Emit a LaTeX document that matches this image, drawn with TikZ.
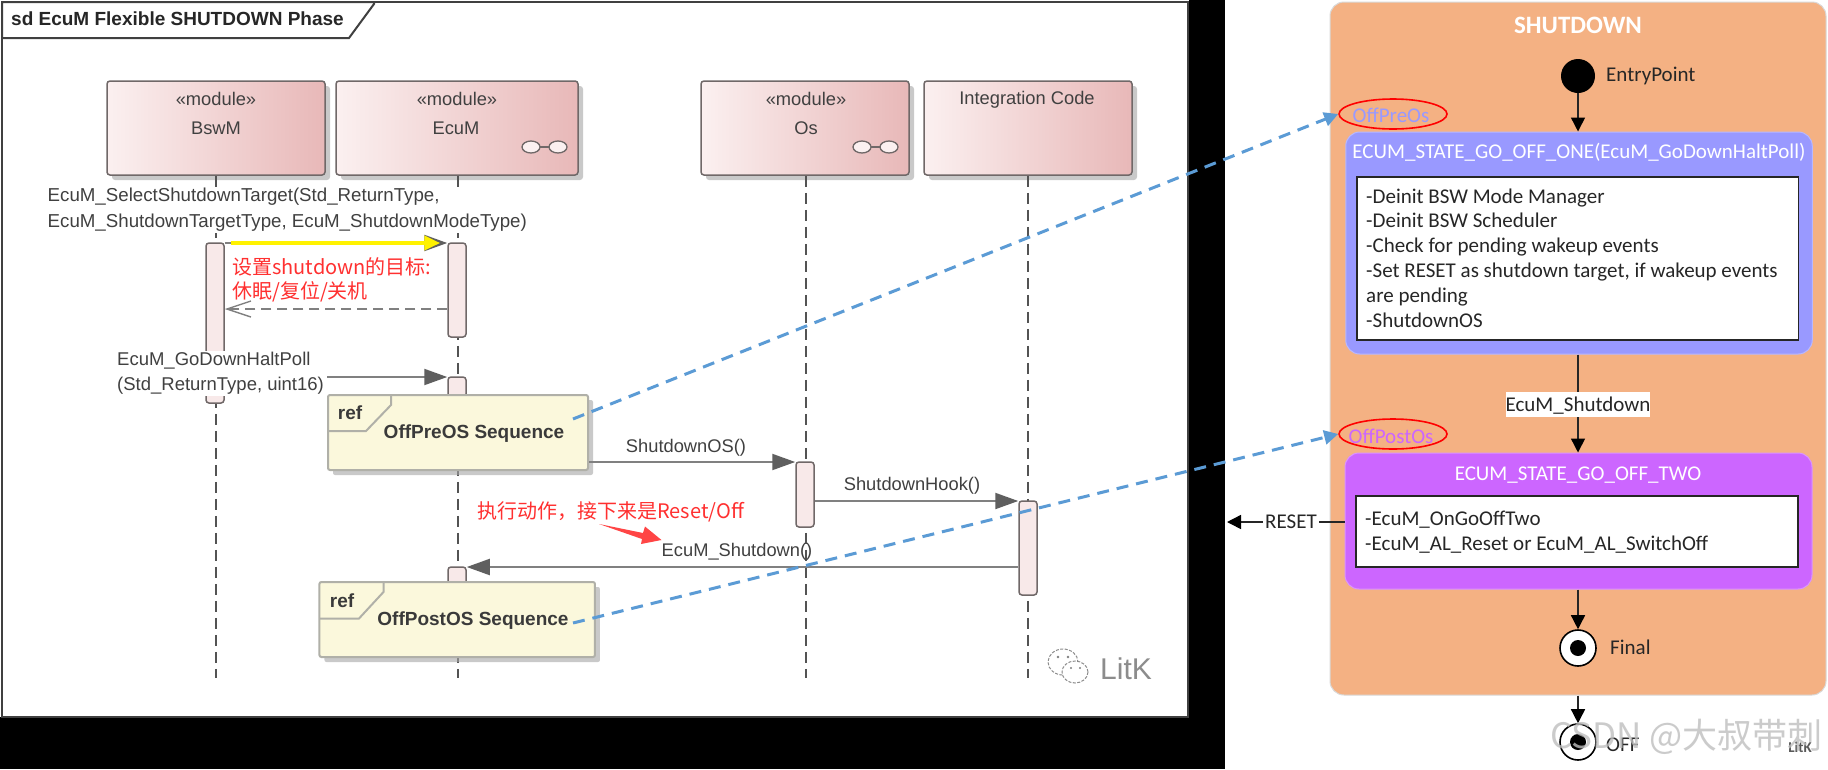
\documentclass[tikz,border=0pt]{standalone}
\usepackage{fontspec}
\setmainfont{Liberation Sans}
\newfontfamily\cjkfont{Noto Sans CJK SC}
\newfontfamily\calfont{Carlito}
\usetikzlibrary{arrows.meta,shapes.geometric,shadows,calc}
\definecolor{hdL}{HTML}{FBF0F0}
\definecolor{hdM}{HTML}{F5E0E0}
\definecolor{hdR}{HTML}{E8B8B8}
\definecolor{hdline}{HTML}{706868}
\definecolor{msg}{HTML}{808080}
\definecolor{tip}{HTML}{5F5F5F}
\definecolor{txt}{HTML}{404040}
\definecolor{barfill}{HTML}{F8E9E9}
\definecolor{reffill}{HTML}{FBF8DC}
\definecolor{refline}{HTML}{B0B0A8}
\definecolor{bluedash}{HTML}{5B9BD5}
\definecolor{rednote}{HTML}{FF3030}
\definecolor{orangebg}{HTML}{F4B183}
\definecolor{stone}{HTML}{9999FF}
\definecolor{sttwo}{HTML}{CC66FF}
\tikzset{
  x=1pt,y=-1pt,
  headbox/.style={rectangle,rounded corners=3pt,draw=hdline,line width=1.5pt,left color=hdL,middle color=hdM,right color=hdR,inner sep=0,
    drop shadow={shadow xshift=5pt,shadow yshift=-5pt,fill=black!35,opacity=.6}},
  lbl/.style={font=\fontsize{18.3}{18.3}\selectfont,text=txt,inner sep=0},
  lifeline/.style={draw=txt!90,line width=1.3pt,dash pattern=on 11pt off 6pt},
  barbox/.style={rectangle,rounded corners=3pt,draw=hdline,line width=1.5pt,fill=barfill,inner sep=0,minimum width=18pt},
  msgline/.style={draw=msg,line width=2pt,-{Triangle[length=23pt,width=16pt,color=tip]}},
  refbox/.style={rectangle,rounded corners=2pt,draw=refline,line width=2pt,fill=reffill,inner sep=0,
    drop shadow={shadow xshift=5pt,shadow yshift=-5pt,fill=black!35,opacity=.6}},
  reftab/.style={draw=refline,line width=2pt},
  reft/.style={font=\fontsize{19}{19}\selectfont\bfseries,text=txt!90!black,inner sep=0},
  blueline/.style={draw=bluedash,line width=3pt,dash pattern=on 12pt off 8pt,-{Triangle[length=14pt,width=14pt,color=bluedash,sep=0pt]}},
  red note/.style={font=\fontsize{20}{20}\cjkfont,text=rednote,inner sep=0,anchor=west},
  statebox/.style={rectangle,rounded corners=14pt,inner sep=0},
  innerbox/.style={rectangle,draw=black!85,line width=1.5pt,fill=white,inner sep=0},
  ctext/.style={font=\fontsize{21}{21}\calfont,text=black!85,inner sep=0,text height=15.5pt,text depth=2pt},
  ctitle/.style={font=\fontsize{21}{21}\calfont,text=white,inner sep=0,text height=15.5pt,text depth=2pt},
  smarrow/.style={draw=black!85,line width=1.5pt,-{Triangle[length=14pt,width=14pt,color=black]}},
  ovalmark/.style={ellipse,draw=red,line width=1.6pt,inner sep=0,minimum width=108pt,minimum height=30pt},
  finalc/.style={circle,draw=black,line width=1.6pt,fill=white,minimum size=36pt,inner sep=0},
  finald/.style={circle,fill=black,minimum size=16pt,inner sep=0},
}
\begin{document}
\begin{tikzpicture}
\useasboundingbox (0,0) rectangle (1828,769);
\fill[white] (0,0) rectangle (1828,769);
% black backdrop
\fill[black] (1189,0) rectangle (1225,769);
\fill[black] (0,717) rectangle (1225,769);
% frame
\draw[draw=txt,line width=2pt] (2,2) rectangle (1188,717);
\draw[draw=txt,line width=2pt,fill=white] (2,38) -- (349,38) -- (374,4) -- (374,2) -- (2,2) -- cycle;
\node[font=\fontsize{19}{19}\selectfont\bfseries,text=black!85,anchor=west,inner sep=0] (title) at (11,19) {sd EcuM Flexible SHUTDOWN Phase};
% heads
\node[headbox,minimum width=218pt,minimum height=94pt] (bswm) at (216,128) {};
\node[headbox,minimum width=242pt,minimum height=94pt] (ecum) at (457,128) {};
\node[headbox,minimum width=208pt,minimum height=94pt] (os) at (805,128) {};
\node[headbox,minimum width=208pt,minimum height=94pt] (integ) at (1028,128) {};
\node[lbl] (bswmS) at (216,99) {«module»};
\node[lbl] (bswmN) at (216,128) {BswM};
\node[lbl] (ecumS) at (457,99) {«module»};
\node[lbl] (ecumN) at (456,128) {EcuM};
\node[lbl] (osS) at (806,99) {«module»};
\node[lbl] (osN) at (806,128) {Os};
\node[lbl] (integS) at (1027,100) {Integration Code};
% glasses
\foreach \cx in {531,862}{
  \draw[draw=hdline,line width=1.3pt,fill=hdL] (\cx,147) ellipse [x radius=9,y radius=6];
  \draw[draw=hdline,line width=1.3pt,fill=hdL] (\cx+27,147) ellipse [x radius=9,y radius=6];
  \draw[draw=hdline,line width=1.3pt] (\cx+9,147) -- (\cx+18,147);
}
% lifelines
\coordinate (bswmE) at (216,678);
\coordinate (ecumE) at (458,678);
\coordinate (osE) at (806,678);
\coordinate (integE) at (1028,678);
\draw[lifeline] (bswm.south) -- (bswmE);
\draw[lifeline] (ecum.south) ++(1,0) -- (ecumE);
\draw[lifeline] (os.south) ++(1,0) -- (osE);
\draw[lifeline] (integ.south) -- (integE);
% activation bars
\node[barbox,minimum height=160pt] (barB) at (215,323) {};
\node[barbox,minimum height=94pt] (barE1) at (457,290) {};
\node[barbox,minimum height=20pt] (barE2) at (457,387) {};
\node[barbox,minimum height=65pt] (barO) at (805,494.5) {};
\node[barbox,minimum height=94pt] (barI) at (1028,548) {};
\node[barbox,minimum height=22pt] (barE3) at (457,578) {};
% message labels (white ground hides lifelines)
\node[lbl,fill=white,anchor=west,align=left,inner ysep=1pt,font=\fontsize{18.7}{26}\selectfont] (m1t) at (47.5,210) {EcuM\_SelectShutdownTarget(Std\_ReturnType,\\EcuM\_ShutdownTargetType, EcuM\_ShutdownModeType)};
\node[lbl,fill=white,anchor=west,align=left,inner ysep=1pt,font=\fontsize{18.5}{25}\selectfont] (m2t) at (117,373.5) {EcuM\_GoDownHaltPoll\\(Std\_ReturnType, uint16)};
% messages
\draw[msgline] (barB.east |- 0,243) -- (barE1.west |- 0,243);
\draw[draw=yellow,line width=4.5pt,shorten <=6pt,shorten >=7pt,-{Triangle[length=16pt,width=14pt,color=yellow]}] (barB.east |- 0,243) -- (barE1.west |- 0,243);
\draw[draw=msg,line width=1.5pt,dash pattern=on 10pt off 6pt,-{Straight Barb[length=24pt,width=16pt,color=msg,line width=1.4pt]}] (barE1.west |- 0,309) -- (barB.east |- 0,309);
\draw[msgline] (m2t.east |- 0,377) ++(3,0) -- (barE2.west |- 0,377);
% ref boxes
\node[refbox,minimum width=260pt,minimum height=75pt] (refA) at (458,432.5) {};
\draw[reftab] (391,395) -- (391,405) -- (366,431) -- (328,431);
\node[reft] (refAk) at (350,413) {ref};
\node[reft] (refAt) at (474,434) {OffPreOS Sequence};
\node[refbox,minimum width=275.5pt,minimum height=75pt] (refB) at (457.2,619.5) {};
\draw[reftab] (383.5,582) -- (383.5,592) -- (359,618.5) -- (319.5,618.5);
\node[reft] (refBk) at (342,601) {ref};
\node[reft] (refBt) at (473,621) {OffPostOS Sequence};
\draw[msgline] (refA.east |- 0,462) -- (barO.west |- 0,462);
\node[lbl] (m3t) at (686,448) {ShutdownOS()};
\draw[msgline] (barO.east |- 0,501) -- (barI.west |- 0,501);
\node[lbl] (m4t) at (912,486) {ShutdownHook()};
\draw[msgline] (barI.west |- 0,567) -- (barE3.east |- 0,567);
\node[lbl] (m5t) at (737,552) {EcuM\_Shutdown()};
% red notes
\node[red note] (noteA) at (232,267) {设置shutdown的目标:};
\node[red note] (noteB) at (232,292) {休眠/复位/关机};
\node[red note] (noteC) at (477,512) {执行动作\symbol{"FF0C}接下来是Reset/Off};
\fill[rednote!90!white] (599,524) -- (643,533) -- (645,526.5) -- (661.5,540) -- (641,544) -- (642,539) -- cycle;
% watermark left
\begin{scope}[draw=black!45,line width=1pt,dash pattern=on 3pt off 1.5pt]
  \draw (1063,662) ellipse [x radius=15,y radius=13];
  \draw[fill=white] (1075,672) ellipse [x radius=13,y radius=11];
\end{scope}
\fill[black!50] (1058,657) circle (1.3) (1068,657) circle (1.3) (1071,668) circle (1.2) (1080,668) circle (1.2);
\node[font=\fontsize{30}{30}\selectfont,text=black!45,inner sep=0] (litk) at (1126,669) {LitK};
% SHUTDOWN state
\node[rectangle,rounded corners=14pt,fill=orangebg,draw=black!15,line width=1pt,minimum width=496pt,minimum height=693pt,inner sep=0] (sd) at (1578,348.5) {};
\node[font=\fontsize{25}{25}\calfont\bfseries,text=white,inner sep=0] (sdT) at (1578,25) {SHUTDOWN};
\node[circle,fill=black,minimum size=34pt,inner sep=0] (entry) at (1578,76) {};
\node[ctext,anchor=west] (entryT) at (1606,75) {EntryPoint};
\node[statebox,fill=stone,draw=stone!70!white,line width=1pt,minimum width=466.5pt,minimum height=222pt] (s1) at (1579,243) {};
\node[ctitle] (s1T) at (1579,152) {ECUM\_STATE\_GO\_OFF\_ONE(EcuM\_GoDownHaltPoll)};
\node[innerbox,minimum width=441.5pt,minimum height=163pt] (s1B) at (1577.5,258.5) {};
\node[ctext,anchor=west] (l1) at (1366,197) {-Deinit BSW Mode Manager};
\node[ctext,anchor=west] (l2) at (1366,221) {-Deinit BSW Scheduler};
\node[ctext,anchor=west] (l3) at (1366,246) {-Check for pending wakeup events};
\node[ctext,anchor=west] (l4) at (1366,271) {-Set RESET as shutdown target, if wakeup events};
\node[ctext,anchor=west] (l5) at (1366,296) {are pending};
\node[ctext,anchor=west] (l6) at (1366,321) {-ShutdownOS};
\node[statebox,fill=sttwo,draw=sttwo!70!white,line width=1pt,minimum width=467pt,minimum height=136pt] (s2) at (1578.5,521) {};
\node[ctitle] (s2T) at (1578,474) {ECUM\_STATE\_GO\_OFF\_TWO};
\node[innerbox,minimum width=442pt,minimum height=71pt] (s2B) at (1577,531.5) {};
\node[ctext,anchor=west] (l7) at (1365,519) {-EcuM\_OnGoOffTwo};
\node[ctext,anchor=west] (l8) at (1365,544) {-EcuM\_AL\_Reset or EcuM\_AL\_SwitchOff};
\node[finalc] (final) at (1578,648) {};
\node[finald] at (final) {};
\node[ctext,anchor=west] (finalT) at (1610,648) {Final};
\node[finalc] (off) at (1578,742) {};
\node[finald] at (off) {};
\node[ctext,anchor=west] (offT) at (1606,745) {OFF};
\node[font=\fontsize{15}{15}\calfont\bfseries,text=black!65,inner sep=0] (litkB) at (1800,747) {LitK};
\coordinate (resetEnd) at (1227,522);
% state connectors
\draw[smarrow] (entry) -- (s1.north -| entry);
\draw[smarrow] (s1.south -| entry) -- (s2.north -| entry);
\node[ctext,fill=white,minimum width=144pt,minimum height=25pt] (shT) at (1578,404.5) {EcuM\_Shutdown};
\draw[smarrow] (s2.south -| final) -- (final.north);
\draw[smarrow] (sd.south -| off) -- (off.north);
\draw[smarrow] (s2.west |- resetEnd) -- (resetEnd);
\node[ctext,fill=white,inner xsep=2pt] (resetT) at (1291,522) {RESET};
% ovals
\node[ovalmark] (ovA) at (1393,114) {};
\node[font=\fontsize{21}{21}\calfont,text=stone,inner sep=0] (ovAt) at (1391,115) {OffPreOs};
\node[ovalmark] (ovB) at (1393,434) {};
\node[font=\fontsize{21}{21}\calfont,text=sttwo,inner sep=0] (ovBt) at (1391,436) {OffPostOs};
% blue links
\coordinate (bA) at (573,419);
\coordinate (bB) at (573,623);
\draw[blueline] (bA) -- (ovA.west);
\draw[blueline] (bB) -- (ovB.west);
% csdn mark
\node[font=\fontsize{35}{35}\cjkfont,text=black!25,opacity=.8,inner sep=0,anchor=west] (csdn) at (1550,737) {CSDN @大叔带刺};
\end{tikzpicture}
\end{document}
